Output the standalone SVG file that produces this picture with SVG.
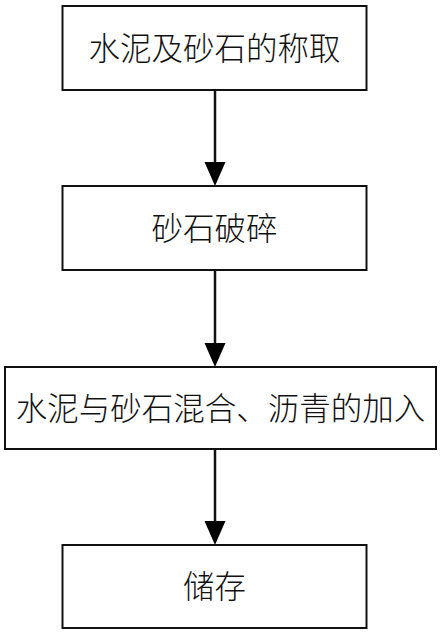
<svg xmlns="http://www.w3.org/2000/svg" width="446" height="635" viewBox="0 0 446 635">
<defs>
<style>
.box{fill:#fff;stroke:#111;stroke-width:2}
.lbl{font-family:"Noto Sans CJK SC","Noto Sans CJK JP",sans-serif;font-size:31.5px;fill:#111;text-anchor:middle;font-weight:300}
.conn{stroke:#111;stroke-width:2.5;fill:none}
.head{fill:#000}
</style>
</defs>
<rect width="446" height="635" fill="#fff"/>
<g id="node1"><rect class="box" x="62.5" y="6" width="304" height="84"/><text class="lbl" x="214.5" y="60">水泥及砂石的称取</text></g>
<g id="node2"><rect class="box" x="62.5" y="186" width="304" height="84"/><text class="lbl" x="214.5" y="240">砂石破碎</text></g>
<g id="node3"><rect class="box" x="5" y="367" width="431" height="82"/><text class="lbl" x="220.5" y="420">水泥与砂石混合、沥青的加入</text></g>
<g id="node4"><rect class="box" x="62.5" y="545" width="304" height="83"/><text class="lbl" x="214.5" y="598">储存</text></g>
<g id="connectors">
<line class="conn" x1="215" y1="90" x2="215" y2="163"/><polygon class="head" points="204.5,162 225.5,162 215,186"/>
<line class="conn" x1="215" y1="270" x2="215" y2="344"/><polygon class="head" points="204.5,343 225.5,343 215,367"/>
<line class="conn" x1="215" y1="449" x2="215" y2="522"/><polygon class="head" points="204.5,521 225.5,521 215,545"/>
</g>
</svg>
